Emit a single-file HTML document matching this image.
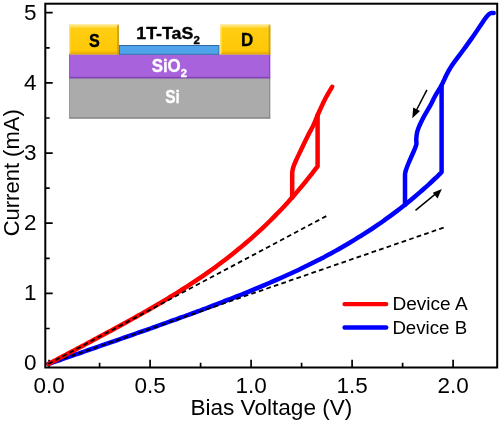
<!DOCTYPE html>
<html><head><meta charset="utf-8"><title>I-V characteristics</title>
<style>
html,body{margin:0;padding:0;background:#fff;}
body{width:500px;height:423px;overflow:hidden;}
svg{display:block;}
text{font-family:"Liberation Sans",Arial,sans-serif;fill:#000;}
.b{font-weight:bold;}
.b text{stroke:#000;}
.b text.w{stroke:#fff;}
.w{fill:#fff;}
</style></head><body>
<svg width="500" height="423" viewBox="0 0 500 423">
<defs>
<linearGradient id="gold" x1="0" y1="0" x2="0" y2="1">
<stop offset="0" stop-color="#ffeb99"/><stop offset="0.07" stop-color="#ffe066"/><stop offset="0.14" stop-color="#ffcd12"/><stop offset="0.86" stop-color="#ffc808"/><stop offset="0.95" stop-color="#eeb200"/><stop offset="1" stop-color="#c99a10"/>
</linearGradient>
</defs>
<rect width="500" height="423" fill="#fff"/>
<!-- inset device schematic -->
<rect x="69" y="78" width="201.2" height="40.6" fill="#ababab"/>
<rect x="69" y="117.2" width="201.2" height="1.4" fill="#858585"/>
<rect x="269" y="78" width="1.2" height="40.6" fill="#8c8c8c"/>
<rect x="69" y="78" width="1" height="40.6" fill="#9a9a9a"/>
<rect x="69" y="54.5" width="201.2" height="23.8" fill="#a862dc"/>
<rect x="69" y="76.8" width="201.2" height="1.6" fill="#8045b0"/>
<rect x="269" y="54.5" width="1.2" height="23.8" fill="#8a4cbc"/>
<rect x="69" y="54.5" width="1" height="23.8" fill="#9a58cc"/>
<rect x="119.3" y="45.5" width="99.6" height="8.8" fill="#4fa3ea" stroke="#2e6aa8" stroke-width="1"/>
<rect x="69" y="24.2" width="50" height="30.4" fill="url(#gold)"/>
<rect x="69" y="24.6" width="1.3" height="29" fill="#ffe680" opacity="0.8"/>
<rect x="117.2" y="24.8" width="1.8" height="29.8" fill="#b8912a" opacity="0.75"/>
<rect x="220.4" y="24.2" width="50" height="30.4" fill="url(#gold)"/>
<rect x="220.4" y="24.6" width="1.3" height="29" fill="#ffe680" opacity="0.8"/>
<rect x="268.6" y="24.8" width="1.8" height="29.8" fill="#b8912a" opacity="0.75"/>
<g class="b" font-size="17.6" stroke-width="0.35">
<text x="94.4" y="47.1" text-anchor="middle" textLength="10.8" lengthAdjust="spacingAndGlyphs" font-size="18.6">S</text>
<text x="247.2" y="46.1" text-anchor="middle" textLength="12.2" lengthAdjust="spacingAndGlyphs" font-size="18.8">D</text>
<text x="136.3" y="38.5" textLength="57" lengthAdjust="spacingAndGlyphs" font-size="17.3">1T-TaS</text>
<text x="193.4" y="44" textLength="6.4" lengthAdjust="spacingAndGlyphs" font-size="11.3">2</text>
<text class="w" x="151.7" y="71.6" textLength="29" lengthAdjust="spacingAndGlyphs">SiO</text>
<text class="w" x="180.8" y="77.3" textLength="6.2" lengthAdjust="spacingAndGlyphs" font-size="11.3">2</text>
<text class="w" x="165.2" y="103.3" textLength="14.6" lengthAdjust="spacingAndGlyphs">Si</text>
</g>
<!-- ticks -->
<path d="M49.1,367.5L49.1,359.8M99.6,367.5L99.6,362.8M150.1,367.5L150.1,359.8M200.6,367.5L200.6,362.8M251.1,367.5L251.1,359.8M301.6,367.5L301.6,362.8M352.1,367.5L352.1,359.8M402.6,367.5L402.6,362.8M453.1,367.5L453.1,359.8M45.3,363.6L52.7,363.6M45.3,328.5L49.7,328.5M45.3,293.4L52.7,293.4M45.3,258.3L49.7,258.3M45.3,223.2L52.7,223.2M45.3,188.2L49.7,188.2M45.3,153.1L52.7,153.1M45.3,118.0L49.7,118.0M45.3,82.9L52.7,82.9M45.3,47.8L49.7,47.8M45.3,12.7L52.7,12.7" stroke="#000" stroke-width="1.7" fill="none"/>
<!-- Device B -->
<g fill="none" stroke="#0000ff" stroke-width="4.5" stroke-linejoin="round" stroke-linecap="round">
<path d="M48.4,363.9C49.4,363.6 52.4,362.5 54.4,361.8C56.4,361.1 58.4,360.5 60.4,359.8C62.4,359.1 64.4,358.4 66.4,357.7C68.4,357.0 70.4,356.3 72.4,355.6C74.4,354.9 76.4,354.2 78.4,353.6C80.4,352.9 82.4,352.2 84.4,351.5C86.4,350.8 88.4,350.1 90.4,349.4C92.4,348.7 94.4,348.0 96.4,347.3C98.4,346.6 100.4,345.9 102.4,345.2C104.4,344.6 106.4,343.9 108.4,343.2C110.4,342.5 112.4,341.8 114.4,341.1C116.4,340.4 118.4,339.7 120.4,339.0C122.4,338.3 124.4,337.6 126.4,336.9C128.4,336.2 130.4,335.5 132.4,334.8C134.4,334.1 136.4,333.4 138.4,332.7C140.4,332.0 142.4,331.3 144.4,330.6C146.4,329.9 148.4,329.2 150.4,328.5C152.4,327.8 154.4,327.0 156.4,326.3C158.4,325.6 160.4,324.9 162.4,324.2C164.4,323.5 166.4,322.8 168.4,322.0C170.4,321.3 172.4,320.6 174.4,319.9C176.4,319.2 178.4,318.4 180.4,317.7C182.4,317.0 184.4,316.3 186.4,315.5C188.4,314.8 190.4,314.1 192.4,313.3C194.4,312.6 196.4,311.9 198.4,311.1C200.4,310.4 202.4,309.6 204.4,308.9C206.4,308.1 208.4,307.4 210.4,306.6C212.4,305.9 214.4,305.1 216.4,304.3C218.4,303.6 220.4,302.8 222.4,302.0C224.4,301.3 226.4,300.5 228.4,299.7C230.4,298.9 232.4,298.2 234.4,297.4C236.4,296.6 238.4,295.8 240.4,295.0C242.4,294.2 244.4,293.4 246.4,292.6C248.4,291.8 250.4,290.9 252.4,290.1C254.4,289.3 256.4,288.5 258.4,287.6C260.4,286.8 262.4,286.0 264.4,285.1C266.4,284.3 268.4,283.4 270.4,282.5C272.4,281.7 274.4,280.8 276.4,279.9C278.4,279.0 280.4,278.1 282.4,277.2C284.4,276.3 286.4,275.4 288.4,274.5C290.4,273.6 292.4,272.7 294.4,271.7C296.4,270.8 298.4,269.9 300.4,268.9C302.4,267.9 304.4,267.0 306.4,266.0C308.4,265.0 310.4,264.0 312.4,263.0C314.4,262.0 316.4,261.0 318.4,260.0C320.4,259.0 322.4,257.9 324.4,256.9C326.4,255.8 328.4,254.7 330.4,253.7C332.4,252.6 334.4,251.5 336.4,250.4C338.4,249.3 340.4,248.1 342.4,247.0C344.4,245.8 346.4,244.7 348.4,243.5C350.4,242.3 352.4,241.1 354.4,239.9C356.4,238.7 358.4,237.5 360.4,236.2C362.4,235.0 364.4,233.7 366.4,232.4C368.4,231.1 370.4,229.8 372.4,228.5C374.4,227.2 376.4,225.8 378.4,224.4C380.4,223.1 382.4,221.7 384.4,220.2C386.4,218.8 388.4,217.4 390.4,215.9C392.4,214.4 394.4,212.9 396.4,211.4C398.4,209.9 400.4,208.4 402.4,206.8C404.4,205.2 406.4,203.6 408.4,202.0C410.4,200.4 412.4,198.7 414.4,197.0C416.4,195.3 418.4,193.6 420.4,191.9C422.4,190.1 424.4,188.4 426.4,186.6C428.4,184.7 430.4,182.9 432.4,181.0C434.4,179.1 436.9,176.8 438.4,175.3C439.9,173.8 441.1,172.7 441.6,172.1L441.6,85.5C442.1,84.3 443.2,81.6 444.8,78.4C446.4,75.2 448.1,71.1 451.2,66.4C454.3,61.7 459.6,55.0 463.3,50.0C467.0,45.0 470.3,40.3 473.2,36.2C476.1,32.1 478.4,28.5 480.5,25.4C482.6,22.3 484.4,19.5 485.9,17.6C487.4,15.7 488.4,14.7 489.3,13.9C490.2,13.1 490.8,13.2 491.5,13.0C492.2,12.8 493.3,12.9 493.7,12.9"/>
<path d="M441.6,85.5C440.6,87.2 437.1,92.5 435.4,95.5C433.7,98.5 432.7,101.0 431.4,103.5C430.1,106.0 428.6,108.4 427.4,110.5C426.2,112.6 425.4,113.7 424.2,116.0C423.0,118.3 421.1,121.9 420.0,124.5C418.9,127.1 417.9,129.2 417.3,131.5C416.7,133.8 416.5,136.2 416.3,138.5C416.1,140.8 416.8,142.6 416.2,145.0C415.6,147.4 414.3,150.0 413.0,153.0C411.7,156.0 409.8,160.1 408.6,163.0C407.4,165.9 406.4,168.6 405.8,170.5C405.2,172.4 405.1,173.8 405.0,174.5L405.0,204.7"/>
<path stroke-width="4.4" d="M344.6,327.5L386.2,327.5"/>
</g>
<path fill="none" stroke="#000" stroke-width="1.8" stroke-dasharray="4.7 3.25" d="M48.4,363.9L444.0,227.5"/>
<!-- Device A -->
<g fill="none" stroke="#ff0000" stroke-width="4.5" stroke-linejoin="round" stroke-linecap="round">
<path d="M48.4,363.9C49.4,363.4 52.4,361.8 54.4,360.7C56.4,359.7 58.4,358.6 60.4,357.6C62.4,356.5 64.4,355.5 66.4,354.4C68.4,353.3 70.4,352.3 72.4,351.2C74.4,350.2 76.4,349.1 78.4,348.1C80.4,347.0 82.4,345.9 84.4,344.9C86.4,343.8 88.4,342.7 90.4,341.7C92.4,340.6 94.4,339.5 96.4,338.5C98.4,337.4 100.4,336.3 102.4,335.3C104.4,334.2 106.4,333.1 108.4,332.0C110.4,331.0 112.4,329.9 114.4,328.8C116.4,327.7 118.4,326.6 120.4,325.5C122.4,324.4 124.4,323.3 126.4,322.2C128.4,321.1 130.4,320.0 132.4,318.9C134.4,317.8 136.4,316.7 138.4,315.5C140.4,314.4 142.4,313.3 144.4,312.1C146.4,311.0 148.4,309.9 150.4,308.7C152.4,307.6 154.4,306.4 156.4,305.2C158.4,304.0 160.4,302.9 162.4,301.7C164.4,300.5 166.4,299.3 168.4,298.1C170.4,296.9 172.4,295.6 174.4,294.4C176.4,293.2 178.4,291.9 180.4,290.7C182.4,289.4 184.4,288.1 186.4,286.8C188.4,285.5 190.4,284.2 192.4,282.9C194.4,281.6 196.4,280.3 198.4,278.9C200.4,277.6 202.4,276.2 204.4,274.8C206.4,273.4 208.4,272.0 210.4,270.6C212.4,269.2 214.4,267.7 216.4,266.3C218.4,264.8 220.4,263.3 222.4,261.8C224.4,260.3 226.4,258.8 228.4,257.2C230.4,255.7 232.4,254.1 234.4,252.5C236.4,250.9 238.4,249.2 240.4,247.6C242.4,245.9 244.4,244.2 246.4,242.5C248.4,240.8 250.4,239.1 252.4,237.3C254.4,235.5 256.4,233.7 258.4,231.9C260.4,230.1 262.4,228.2 264.4,226.3C266.4,224.4 268.4,222.5 270.4,220.5C272.4,218.5 274.4,216.5 276.4,214.4C278.4,212.4 280.4,210.3 282.4,208.2C284.4,206.1 286.4,203.9 288.4,201.7C290.4,199.5 292.4,197.2 294.4,195.0C296.4,192.7 298.4,190.3 300.4,187.9C302.4,185.6 304.4,183.1 306.4,180.6C308.4,178.2 310.5,175.5 312.4,173.1C314.3,170.7 316.7,167.4 317.6,166.3L317.6,115.2C318.8,112.7 322.1,104.9 324.5,100.2C326.9,95.5 330.9,89.0 332.2,86.8"/>
<path d="M317.6,115.2C316.9,116.9 314.9,122.0 313.3,125.4C311.7,128.8 310.1,131.2 308.0,135.5C305.9,139.8 302.5,146.8 300.5,151.0C298.5,155.2 297.2,157.8 296.0,160.5C294.8,163.2 293.8,165.5 293.2,167.5C292.6,169.5 292.4,171.7 292.2,172.5L292.2,197.5"/>
<path stroke-width="4.4" d="M344.6,304.1L386.2,304.1"/>
</g>
<path fill="none" stroke="#000" stroke-width="1.8" stroke-dasharray="4.7 3.25" d="M48.4,363.9L326.5,216.0"/>
<!-- sweep arrows -->
<g stroke="#000" stroke-width="1.5" fill="#000">
<path d="M426.9,89.9L415.5,112" fill="none"/>
<path d="M412.3,118.2L413.2,107.6L420.0,111.1Z" stroke="none"/>
<path d="M415.5,210.4L436.5,193.2" fill="none"/>
<path d="M441.8,188.9L437.6,198.6L432.8,192.7Z" stroke="none"/>
</g>
<!-- axes -->
<rect x="45.3" y="3.7" width="451.9" height="363.8" fill="none" stroke="#000" stroke-width="2"/>
<g font-size="22.5"><text x="49.1" y="392.8" text-anchor="middle">0.0</text><text x="150.1" y="392.8" text-anchor="middle">0.5</text><text x="251.1" y="392.8" text-anchor="middle">1.0</text><text x="352.1" y="392.8" text-anchor="middle">1.5</text><text x="453.1" y="392.8" text-anchor="middle">2.0</text><text x="36.5" y="370.4" text-anchor="end">0</text><text x="36.5" y="300.2" text-anchor="end">1</text><text x="36.5" y="230.0" text-anchor="end">2</text><text x="36.5" y="159.9" text-anchor="end">3</text><text x="36.5" y="89.7" text-anchor="end">4</text><text x="36.5" y="19.5" text-anchor="end">5</text></g>
<text x="271.4" y="415" text-anchor="middle" font-size="22.6">Bias Voltage (V)</text>
<text transform="translate(18.5,172.8) rotate(-90) scale(1,1.035)" text-anchor="middle" font-size="22">Current (mA)</text>
<g font-size="18.7">
<text x="392.4" y="310.3" textLength="75.2" lengthAdjust="spacingAndGlyphs">Device A</text>
<text x="392.4" y="333.7" textLength="74.7" lengthAdjust="spacingAndGlyphs">Device B</text>
</g>
</svg>
</body></html>
